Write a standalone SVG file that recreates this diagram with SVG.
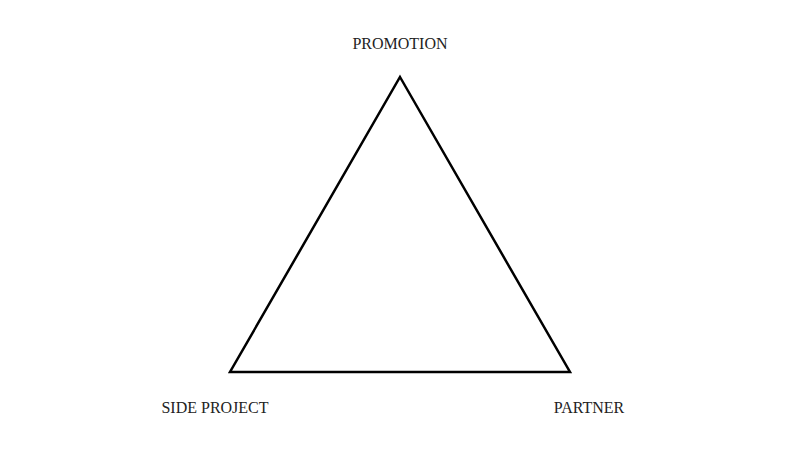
<svg xmlns="http://www.w3.org/2000/svg" width="800" height="450" viewBox="0 0 800 450">
<style>
.lbl{font-family:"Liberation Serif","DejaVu Serif",serif;font-size:16px;fill:#222;text-anchor:middle}
.edge{stroke:#000;stroke-width:2.5;fill:none;stroke-linejoin:miter}
</style>
<rect width="800" height="450" fill="#fff"/>
<g id="connectors">
<path class="edge" d="M400,77 L570,372 L230,372 Z"/>
</g>
<g id="promotion"><text class="lbl" x="400" y="49">PROMOTION</text></g>
<g id="side-project"><text class="lbl" x="215" y="413">SIDE PROJECT</text></g>
<g id="partner"><text class="lbl" x="589" y="413">PARTNER</text></g>
</svg>
